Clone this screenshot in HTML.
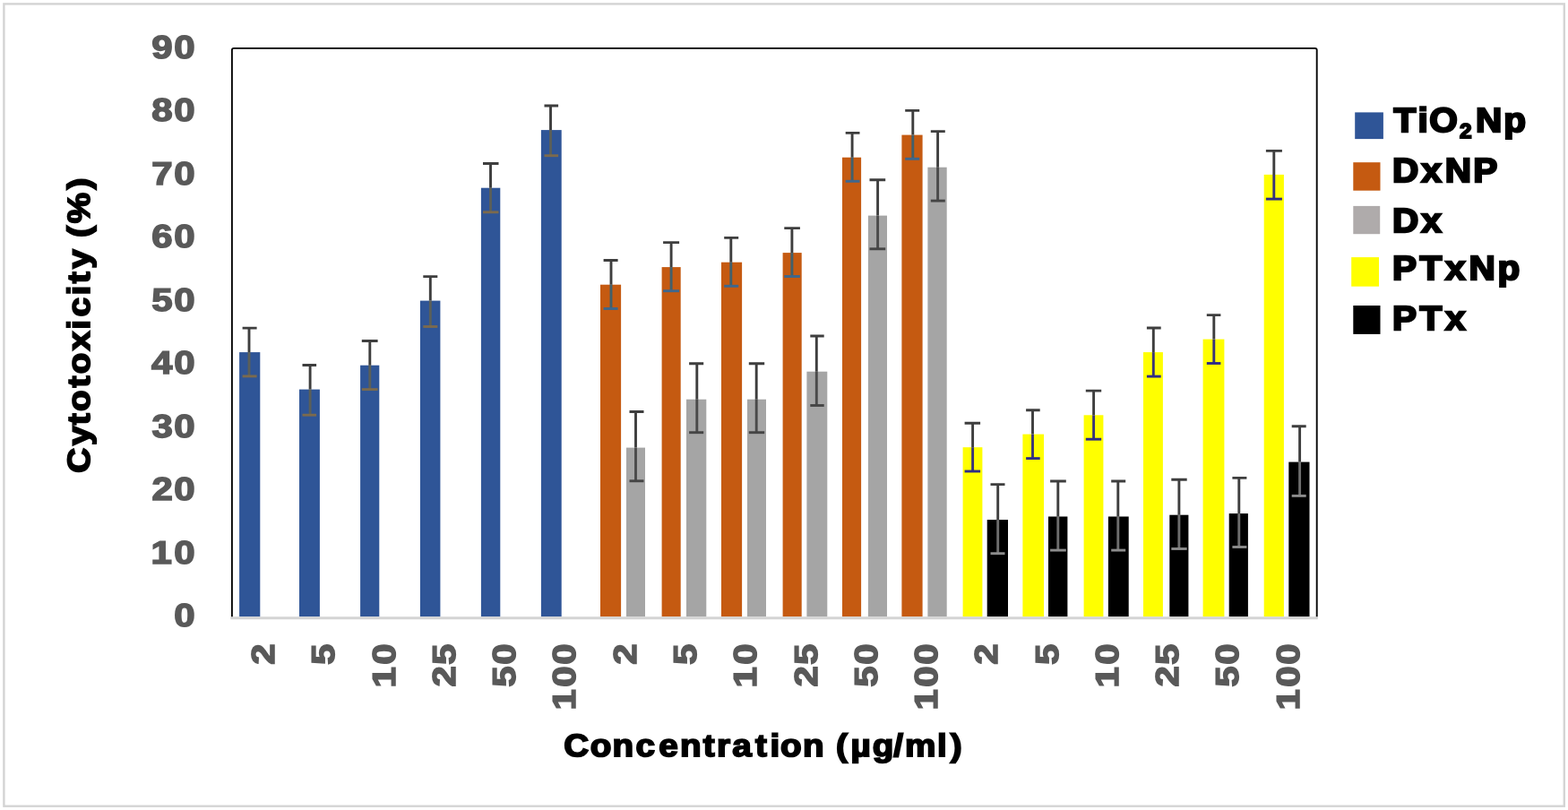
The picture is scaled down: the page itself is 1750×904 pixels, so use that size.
<!DOCTYPE html>
<html lang="en">
<head>
<meta charset="utf-8">
<title>Cytotoxicity (%) vs Concentration (µg/ml)</title>
<style>html,body{margin:0;padding:0;background:#fff;}body{width:1750px;height:904px;overflow:hidden;}svg{display:block;filter:blur(0.55px);}</style>
</head>
<body>
<svg width="1750" height="904" viewBox="0 0 1750 904">
<rect x="0" y="0" width="1750" height="904" fill="#fff"/>
<rect x="4.4" y="4.4" width="1741.4" height="895.3" fill="none" stroke="#d4d4d4" stroke-width="2.4"/>
<g shape-rendering="auto">
<rect x="267.1" y="393.1" width="23.2" height="295.2" fill="#2F5597"/>
<rect x="334.0" y="434.6" width="22.9" height="253.7" fill="#2F5597"/>
<rect x="402.1" y="407.7" width="21.2" height="280.6" fill="#2F5597"/>
<rect x="468.9" y="335.6" width="22.5" height="352.7" fill="#2F5597"/>
<rect x="536.9" y="209.7" width="21.4" height="478.6" fill="#2F5597"/>
<rect x="603.9" y="145.1" width="22.8" height="543.2" fill="#2F5597"/>
<rect x="670.0" y="317.7" width="23.1" height="370.6" fill="#C55A11"/>
<rect x="738.6" y="298.1" width="21.1" height="390.2" fill="#C55A11"/>
<rect x="805.0" y="292.7" width="23.1" height="395.6" fill="#C55A11"/>
<rect x="873.6" y="282.1" width="21.1" height="406.2" fill="#C55A11"/>
<rect x="940.0" y="175.7" width="21.1" height="512.6" fill="#C55A11"/>
<rect x="1006.4" y="150.6" width="23.2" height="537.7" fill="#C55A11"/>
<rect x="699.0" y="499.6" width="21.0" height="188.7" fill="#A5A5A5"/>
<rect x="766.0" y="445.7" width="22.3" height="242.6" fill="#A5A5A5"/>
<rect x="834.0" y="445.7" width="21.0" height="242.6" fill="#A5A5A5"/>
<rect x="900.4" y="414.7" width="22.9" height="273.6" fill="#A5A5A5"/>
<rect x="968.9" y="240.6" width="21.1" height="447.7" fill="#A5A5A5"/>
<rect x="1035.4" y="186.7" width="21.3" height="501.6" fill="#A5A5A5"/>
<rect x="1074.6" y="499.2" width="21.8" height="189.1" fill="#FFFF00"/>
<rect x="1141.4" y="484.6" width="23.6" height="203.7" fill="#FFFF00"/>
<rect x="1209.6" y="463.3" width="21.8" height="225.0" fill="#FFFF00"/>
<rect x="1276.0" y="393.1" width="21.9" height="295.2" fill="#FFFF00"/>
<rect x="1342.6" y="378.6" width="23.8" height="309.7" fill="#FFFF00"/>
<rect x="1410.7" y="194.9" width="22.2" height="493.4" fill="#FFFF00"/>
<rect x="1101.7" y="580.1" width="23.3" height="108.2" fill="#000000"/>
<rect x="1170.0" y="576.5" width="21.4" height="111.8" fill="#000000"/>
<rect x="1236.9" y="576.5" width="22.8" height="111.8" fill="#000000"/>
<rect x="1305.3" y="574.7" width="21.1" height="113.6" fill="#000000"/>
<rect x="1371.7" y="573.1" width="21.2" height="115.2" fill="#000000"/>
<rect x="1438.3" y="515.6" width="23.2" height="172.7" fill="#000000"/>
</g>
<line x1="257.3" y1="689.7" x2="1470.8" y2="689.7" stroke="#d4d4d4" stroke-width="3"/>
<path d="M258.9 688.2V55.9Q258.9 53.9 260.9 53.9H1467.7Q1469.7 53.9 1469.7 55.9V688.2" fill="none" stroke="#050505" stroke-width="1.9"/>
<g fill="none" stroke-width="2.9">
<path d="M270.6 366.1H286.6M278.0 366.1V393.1" stroke="#3e3e3e"/>
<path d="M278.0 393.1V419.9" stroke="#5b5f59"/>
<path d="M270.6 419.9H286.6" stroke="#7b6a4e"/>
<path d="M337.5 407.5H353.1M346.1 407.5V434.6" stroke="#3e3e3e"/>
<path d="M346.1 434.6V463.2" stroke="#5b5f59"/>
<path d="M337.5 463.2H353.1" stroke="#7b6a4e"/>
<path d="M403.8 380.5H421.6M412.8 380.5V407.7" stroke="#3e3e3e"/>
<path d="M412.8 407.7V434.6" stroke="#5b5f59"/>
<path d="M403.8 434.6H421.6" stroke="#7b6a4e"/>
<path d="M472.3 308.6H488.3M480.3 308.6V335.6" stroke="#3e3e3e"/>
<path d="M480.3 335.6V364.5" stroke="#5b5f59"/>
<path d="M472.3 364.5H488.3" stroke="#7b6a4e"/>
<path d="M539.0 182.5H556.5M547.5 182.5V209.7" stroke="#3e3e3e"/>
<path d="M547.5 209.7V236.8" stroke="#5b5f59"/>
<path d="M539.0 236.8H556.5" stroke="#7b6a4e"/>
<path d="M607.5 118.0H623.1M614.5 118.0V145.1" stroke="#3e3e3e"/>
<path d="M614.5 145.1V173.7" stroke="#5b5f59"/>
<path d="M607.5 173.7H623.1" stroke="#7b6a4e"/>
<path d="M673.6 290.5H689.6M682.0 290.5V317.7" stroke="#3e3e3e"/>
<path d="M682.0 317.7V344.5" stroke="#42606b"/>
<path d="M673.6 344.5H689.6" stroke="#3f678c"/>
<path d="M740.1 270.6H758.1M749.1 270.6V298.1" stroke="#3e3e3e"/>
<path d="M749.1 298.1V324.7" stroke="#42606b"/>
<path d="M740.1 324.7H758.1" stroke="#3f678c"/>
<path d="M808.2 265.4H824.2M815.8 265.4V292.7" stroke="#3e3e3e"/>
<path d="M815.8 292.7V319.3" stroke="#42606b"/>
<path d="M808.2 319.3H824.2" stroke="#3f678c"/>
<path d="M875.3 254.6H892.9M883.9 254.6V282.1" stroke="#3e3e3e"/>
<path d="M883.9 282.1V308.5" stroke="#42606b"/>
<path d="M875.3 308.5H892.9" stroke="#3f678c"/>
<path d="M943.7 148.4H959.5M951.1 148.4V175.7" stroke="#3e3e3e"/>
<path d="M951.1 175.7V202.3" stroke="#42606b"/>
<path d="M943.7 202.3H959.5" stroke="#3f678c"/>
<path d="M1010.2 123.4H1026.2M1018.8 123.4V150.6" stroke="#3e3e3e"/>
<path d="M1018.8 150.6V177.3" stroke="#42606b"/>
<path d="M1010.2 177.3H1026.2" stroke="#3f678c"/>
<path d="M702.5 459.5H718.5M709.5 459.5V499.6" stroke="#3e3e3e"/>
<path d="M709.5 499.6V536.8" stroke="#4a4a4a"/>
<path d="M702.5 536.8H718.5" stroke="#454545"/>
<path d="M769.1 405.7H785.2M777.8 405.7V445.7" stroke="#3e3e3e"/>
<path d="M777.8 445.7V482.7" stroke="#4a4a4a"/>
<path d="M769.1 482.7H785.2" stroke="#454545"/>
<path d="M835.8 405.7H853.2M844.2 405.7V445.7" stroke="#3e3e3e"/>
<path d="M844.2 445.7V482.7" stroke="#4a4a4a"/>
<path d="M835.8 482.7H853.2" stroke="#454545"/>
<path d="M904.3 375.0H919.7M911.3 375.0V414.7" stroke="#3e3e3e"/>
<path d="M911.3 414.7V452.5" stroke="#4a4a4a"/>
<path d="M904.3 452.5H919.7" stroke="#454545"/>
<path d="M970.5 200.7H988.2M979.6 200.7V240.6" stroke="#3e3e3e"/>
<path d="M979.6 240.6V277.8" stroke="#4a4a4a"/>
<path d="M970.5 277.8H988.2" stroke="#454545"/>
<path d="M1038.8 146.6H1054.8M1046.6 146.6V186.7" stroke="#3e3e3e"/>
<path d="M1046.6 186.7V224.1" stroke="#4a4a4a"/>
<path d="M1038.8 224.1H1054.8" stroke="#454545"/>
<path d="M1076.6 472.2H1094.1M1085.6 472.2V499.2" stroke="#3e3e3e"/>
<path d="M1085.6 499.2V526.0" stroke="#39347a"/>
<path d="M1076.6 526.0H1094.1" stroke="#2f2c86"/>
<path d="M1145.1 457.7H1160.7M1152.5 457.7V484.6" stroke="#3e3e3e"/>
<path d="M1152.5 484.6V511.6" stroke="#39347a"/>
<path d="M1145.1 511.6H1160.7" stroke="#2f2c86"/>
<path d="M1211.8 436.1H1229.2M1220.6 436.1V463.3" stroke="#3e3e3e"/>
<path d="M1220.6 463.3V490.2" stroke="#39347a"/>
<path d="M1211.8 490.2H1229.2" stroke="#2f2c86"/>
<path d="M1279.9 366.0H1295.7M1287.3 366.0V393.1" stroke="#3e3e3e"/>
<path d="M1287.3 393.1V420.1" stroke="#39347a"/>
<path d="M1279.9 420.1H1295.7" stroke="#2f2c86"/>
<path d="M1346.8 351.6H1362.4M1354.8 351.6V378.6" stroke="#3e3e3e"/>
<path d="M1354.8 378.6V405.5" stroke="#39347a"/>
<path d="M1346.8 405.5H1362.4" stroke="#2f2c86"/>
<path d="M1412.9 168.4H1430.9M1421.8 168.4V194.9" stroke="#3e3e3e"/>
<path d="M1421.8 194.9V222.1" stroke="#39347a"/>
<path d="M1412.9 222.1H1430.9" stroke="#2f2c86"/>
<path d="M1105.5 540.6H1121.5M1113.7 540.6V580.1" stroke="#3e3e3e"/>
<path d="M1113.7 580.1V617.7" stroke="#6e6e6e"/>
<path d="M1105.5 617.7H1121.5" stroke="#8c8c8c"/>
<path d="M1172.1 537.0H1189.8M1180.8 537.0V576.5" stroke="#3e3e3e"/>
<path d="M1180.8 576.5V614.1" stroke="#6e6e6e"/>
<path d="M1172.1 614.1H1189.8" stroke="#8c8c8c"/>
<path d="M1240.2 537.0H1256.2M1247.8 537.0V576.5" stroke="#3e3e3e"/>
<path d="M1247.8 576.5V614.1" stroke="#6e6e6e"/>
<path d="M1240.2 614.1H1256.2" stroke="#8c8c8c"/>
<path d="M1307.3 535.2H1324.7M1315.9 535.2V574.7" stroke="#3e3e3e"/>
<path d="M1315.9 574.7V612.5" stroke="#6e6e6e"/>
<path d="M1307.3 612.5H1324.7" stroke="#8c8c8c"/>
<path d="M1375.4 533.4H1391.4M1382.8 533.4V573.1" stroke="#3e3e3e"/>
<path d="M1382.8 573.1V610.5" stroke="#6e6e6e"/>
<path d="M1375.4 610.5H1391.4" stroke="#8c8c8c"/>
<path d="M1441.7 475.8H1457.7M1450.6 475.8V515.6" stroke="#3e3e3e"/>
<path d="M1450.6 515.6V553.4" stroke="#6e6e6e"/>
<path d="M1441.7 553.4H1457.7" stroke="#8c8c8c"/>
</g>
<g font-family="'Liberation Sans', sans-serif" font-weight="700" stroke-linejoin="miter" stroke-miterlimit="3" text-rendering="geometricPrecision">
<text transform="translate(218.30 699.40) scale(1.1670 1)" x="-20.65" y="0" font-size="36.0" fill="#595959" stroke="#595959" stroke-width="1.5">0</text>
<text transform="translate(218.30 628.86) scale(1.1670 1)" x="-42.76 -20.65" y="0" font-size="36.0" fill="#595959" stroke="#595959" stroke-width="1.5">10</text>
<text transform="translate(218.30 558.31) scale(1.1670 1)" x="-41.92 -20.65" y="0" font-size="36.0" fill="#595959" stroke="#595959" stroke-width="1.5">20</text>
<text transform="translate(218.30 487.77) scale(1.1670 1)" x="-41.78 -20.65" y="0" font-size="36.0" fill="#595959" stroke="#595959" stroke-width="1.5">30</text>
<text transform="translate(218.30 417.22) scale(1.1670 1)" x="-42.19 -20.65" y="0" font-size="36.0" fill="#595959" stroke="#595959" stroke-width="1.5">40</text>
<text transform="translate(218.30 346.68) scale(1.1670 1)" x="-42.07 -20.65" y="0" font-size="36.0" fill="#595959" stroke="#595959" stroke-width="1.5">50</text>
<text transform="translate(218.30 276.13) scale(1.1670 1)" x="-42.02 -20.65" y="0" font-size="36.0" fill="#595959" stroke="#595959" stroke-width="1.5">60</text>
<text transform="translate(218.30 205.59) scale(1.1670 1)" x="-42.00 -20.65" y="0" font-size="36.0" fill="#595959" stroke="#595959" stroke-width="1.5">70</text>
<text transform="translate(218.30 135.04) scale(1.1670 1)" x="-42.03 -20.65" y="0" font-size="36.0" fill="#595959" stroke="#595959" stroke-width="1.5">80</text>
<text transform="translate(218.30 64.50) scale(1.1670 1)" x="-41.97 -20.65" y="0" font-size="36.0" fill="#595959" stroke="#595959" stroke-width="1.5">90</text>
<text transform="translate(306.13 717.70) rotate(-90) scale(1.1670 1)" x="-20.58" y="0" font-size="36.0" fill="#595959" stroke="#595959" stroke-width="1.5">2</text>
<text transform="translate(373.40 717.70) rotate(-90) scale(1.1670 1)" x="-20.73" y="0" font-size="36.0" fill="#595959" stroke="#595959" stroke-width="1.5">5</text>
<text transform="translate(440.67 717.70) rotate(-90) scale(1.1670 1)" x="-42.76 -20.65" y="0" font-size="36.0" fill="#595959" stroke="#595959" stroke-width="1.5">10</text>
<text transform="translate(507.93 717.70) rotate(-90) scale(1.1670 1)" x="-41.92 -20.73" y="0" font-size="36.0" fill="#595959" stroke="#595959" stroke-width="1.5">25</text>
<text transform="translate(575.20 717.70) rotate(-90) scale(1.1670 1)" x="-42.07 -20.65" y="0" font-size="36.0" fill="#595959" stroke="#595959" stroke-width="1.5">50</text>
<text transform="translate(642.47 717.70) rotate(-90) scale(1.1670 1)" x="-64.10 -41.99 -20.65" y="0" font-size="36.0" fill="#595959" stroke="#595959" stroke-width="1.5">100</text>
<text transform="translate(709.73 717.70) rotate(-90) scale(1.1670 1)" x="-20.58" y="0" font-size="36.0" fill="#595959" stroke="#595959" stroke-width="1.5">2</text>
<text transform="translate(777.00 717.70) rotate(-90) scale(1.1670 1)" x="-20.73" y="0" font-size="36.0" fill="#595959" stroke="#595959" stroke-width="1.5">5</text>
<text transform="translate(844.27 717.70) rotate(-90) scale(1.1670 1)" x="-42.76 -20.65" y="0" font-size="36.0" fill="#595959" stroke="#595959" stroke-width="1.5">10</text>
<text transform="translate(911.53 717.70) rotate(-90) scale(1.1670 1)" x="-41.92 -20.73" y="0" font-size="36.0" fill="#595959" stroke="#595959" stroke-width="1.5">25</text>
<text transform="translate(978.80 717.70) rotate(-90) scale(1.1670 1)" x="-42.07 -20.65" y="0" font-size="36.0" fill="#595959" stroke="#595959" stroke-width="1.5">50</text>
<text transform="translate(1046.07 717.70) rotate(-90) scale(1.1670 1)" x="-64.10 -41.99 -20.65" y="0" font-size="36.0" fill="#595959" stroke="#595959" stroke-width="1.5">100</text>
<text transform="translate(1113.33 717.70) rotate(-90) scale(1.1670 1)" x="-20.58" y="0" font-size="36.0" fill="#595959" stroke="#595959" stroke-width="1.5">2</text>
<text transform="translate(1180.60 717.70) rotate(-90) scale(1.1670 1)" x="-20.73" y="0" font-size="36.0" fill="#595959" stroke="#595959" stroke-width="1.5">5</text>
<text transform="translate(1247.87 717.70) rotate(-90) scale(1.1670 1)" x="-42.76 -20.65" y="0" font-size="36.0" fill="#595959" stroke="#595959" stroke-width="1.5">10</text>
<text transform="translate(1315.13 717.70) rotate(-90) scale(1.1670 1)" x="-41.92 -20.73" y="0" font-size="36.0" fill="#595959" stroke="#595959" stroke-width="1.5">25</text>
<text transform="translate(1382.40 717.70) rotate(-90) scale(1.1670 1)" x="-42.07 -20.65" y="0" font-size="36.0" fill="#595959" stroke="#595959" stroke-width="1.5">50</text>
<text transform="translate(1449.67 717.70) rotate(-90) scale(1.1670 1)" x="-64.10 -41.99 -20.65" y="0" font-size="36.0" fill="#595959" stroke="#595959" stroke-width="1.5">100</text>
<text transform="translate(643.55 843.55) scale(1.1000 1)" x="-12.95 13.84 36.36 59.95 83.40 104.91 128.28 142.26 157.99 181.23 196.22 206.89 229.54 250.27 263.23 278.08 300.16 321.47 333.10 365.76 379.36" y="0" font-size="35.2" fill="#000" stroke="#000" stroke-width="1.8">Concentration (µg/ml)</text>
<text transform="translate(99.85 513.55) rotate(-90) scale(1.1000 1)" x="-12.95 14.94 35.78 49.57 73.78 87.66 111.08 132.67 145.59 167.40 179.46 194.40 213.52 225.87 240.19 274.54" y="0" font-size="35.2" fill="#000" stroke="#000" stroke-width="1.8">Cytotoxicity (%)</text>
<text transform="translate(1567.80 147.15) scale(1.0650 1)" x="-11.65 13.69 25.72 57.51 74.28 103.66" y="0" font-size="38.1" fill="#000" stroke="#000" stroke-width="2.3" aria-label="TiO2Np">TiO<tspan y="7.3" font-size="22.86" stroke-width="1.84">2</tspan><tspan y="0">Np</tspan></text>
<text transform="translate(1569.10 203.15) scale(1.0650 1)" x="-14.23 16.03 40.88 70.52" y="0" font-size="38.1" fill="#000" stroke="#000" stroke-width="2.3">DxNP</text>
<text transform="translate(1569.10 258.95) scale(1.0650 1)" x="-14.23 16.03" y="0" font-size="38.1" fill="#000" stroke="#000" stroke-width="2.3">Dx</text>
<text transform="translate(1568.20 312.40) scale(1.0650 1)" x="-13.33 15.30 42.04 66.96 96.93" y="0" font-size="38.1" fill="#000" stroke="#000" stroke-width="2.3">PTxNp</text>
<text transform="translate(1568.20 368.45) scale(1.0650 1)" x="-13.33 15.30 42.04" y="0" font-size="38.1" fill="#000" stroke="#000" stroke-width="2.3">PTx</text>
</g>
<rect x="1512.2" y="125.4" width="31.7" height="29.7" fill="#2F5597"/>
<rect x="1510.3" y="181.2" width="30.2" height="31.5" fill="#C55A11"/>
<rect x="1510.3" y="229.9" width="29.9" height="31.3" fill="#AFABAB"/>
<rect x="1508.2" y="287.1" width="30.8" height="32.6" fill="#FFFF00"/>
<rect x="1510.3" y="341.0" width="30.2" height="31.9" fill="#000000"/>
</svg>
</body>
</html>
